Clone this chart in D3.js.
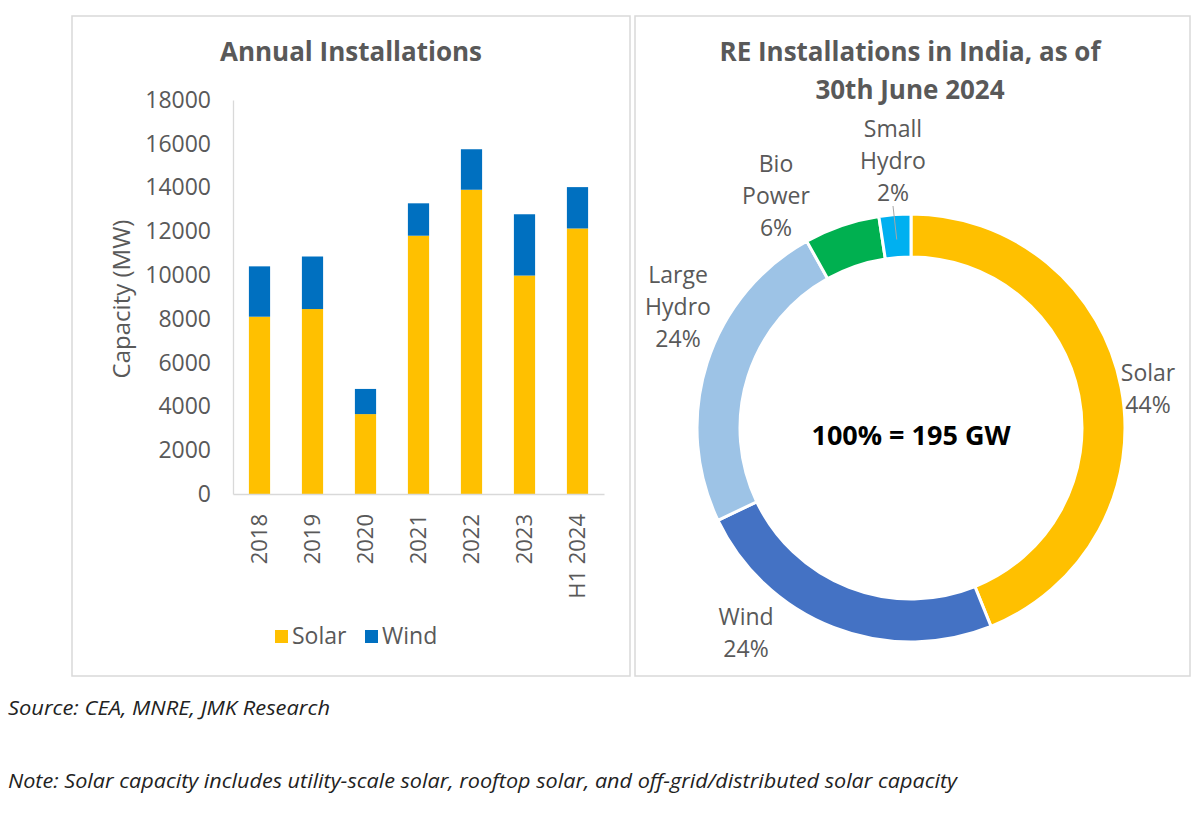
<!DOCTYPE html>
<html>
<head>
<meta charset="utf-8">
<script src="https://cdn.jsdelivr.net/npm/d3@7"></script>
<style>
  body { margin: 0; background: #fff; }
  svg text { font-family: "Open Sans", sans-serif; }
</style>
</head>
<body>
<svg id="chart" width="1200" height="818"></svg>
<script>
// Annual installations (MW)
const years = ["2018", "2019", "2020", "2021", "2022", "2023", "H1 2024"];
const solarMW = [8100, 8450, 3650, 11800, 13900, 9980, 12130];
const windMW = [2300, 2400, 1150, 1480, 1850, 2800, 1890];
const yTicks = [0, 2000, 4000, 6000, 8000, 10000, 12000, 14000, 16000, 18000];

// RE mix as of 30 June 2024 (share of 195 GW, %)
const sources = ["Solar", "Wind", "Large Hydro", "Bio Power", "Small Hydro"];
const shares = [43.9, 24.0, 24.0, 5.7, 2.4];
const totalLabel = "100% = 195 GW";

const grey = "#595959",
  border = "#d9d9d9",
  barColors = { Solar: "#FFC000", Wind: "#0070C0" },
  pieColors = ["#FFC000", "#4472C4", "#9DC3E6", "#00B050", "#00B0F0"];

const svg = d3.select("#chart");

// panel frames
svg.append("rect").attr("x", 72).attr("y", 16).attr("width", 558).attr("height", 660)
  .attr("fill", "none").attr("stroke", border).attr("stroke-width", 1.5);
svg.append("rect").attr("x", 635).attr("y", 16).attr("width", 555).attr("height", 660)
  .attr("fill", "none").attr("stroke", border).attr("stroke-width", 1.5);

// ===========================================================================
// Left: stacked bars
// ===========================================================================
const x = d3.scaleBand().domain(years).range([233, 604]).paddingInner(0.6).paddingOuter(0.3);
const y = d3.scaleLinear().domain([0, 18000]).range([494, 100]);

svg.append("text").attr("x", 351).attr("y", 61).attr("text-anchor", "middle")
  .style("font-size", "26px").style("font-weight", "bold").attr("fill", grey)
  .text("Annual Installations");

const rows = years.map((yr, i) => ({ year: yr, Solar: solarMW[i], Wind: windMW[i] }));
const stacked = d3.stack().keys(["Solar", "Wind"])(rows);

svg.append("g").selectAll("g").data(stacked).enter().append("g")
  .attr("fill", (d) => barColors[d.key])
  .selectAll("rect").data((d) => d).enter().append("rect")
  .attr("x", (d) => x(d.data.year))
  .attr("width", x.bandwidth())
  .attr("y", (d) => y(d[1]))
  .attr("height", (d) => y(d[0]) - y(d[1]));

const yAxis = svg.append("g").attr("transform", "translate(233,0)")
  .call(d3.axisLeft(y).tickValues(yTicks).tickFormat(d3.format("d")).tickSize(0).tickPadding(22));
yAxis.select(".domain").attr("stroke", border).attr("stroke-width", 1.3);
yAxis.selectAll("text").attr("fill", grey).style("font-size", "23px")
  .style("font-family", "'Open Sans', sans-serif");

const xAxis = svg.append("g").attr("transform", "translate(0,494)")
  .call(d3.axisBottom(x).tickSize(0));
xAxis.select(".domain").attr("stroke", border).attr("stroke-width", 1.3);
xAxis.selectAll("text")
  .attr("fill", grey).style("font-size", "22px").style("font-family", "'Open Sans', sans-serif")
  .attr("transform", "rotate(-90)")
  .attr("text-anchor", "end").attr("dy", "0.36em").attr("x", -20).attr("y", 0);

svg.append("text").attr("transform", "translate(130,299) rotate(-90)")
  .attr("text-anchor", "middle").style("font-size", "24px").attr("fill", grey)
  .text("Capacity (MW)");

// legend
const legend = svg.append("g").selectAll("g").data(["Solar", "Wind"]).enter().append("g")
  .attr("transform", (d, i) => "translate(" + (275 + i * 90) + ",627)");
legend.append("rect").attr("width", 13).attr("height", 13).attr("y", 3)
  .attr("fill", (d) => barColors[d]);
legend.append("text").attr("x", 17).attr("y", 17).style("font-size", "23px")
  .attr("fill", grey).text((d) => d);

// ===========================================================================
// Right: donut
// ===========================================================================
const cx = 911, cy = 428, rOut = 214, rIn = 171;

const title2 = svg.append("text").attr("text-anchor", "middle")
  .style("font-size", "26px").style("font-weight", "bold").attr("fill", grey);
title2.append("tspan").attr("x", 910).attr("y", 61).text("RE Installations in India, as of");
title2.append("tspan").attr("x", 910).attr("y", 99).text("30th June 2024");

const pie = d3.pie().sort(null).value((d) => d.v);
const arcs = pie(sources.map((s, i) => ({ name: s, v: shares[i], c: pieColors[i] })));
const arc = d3.arc().innerRadius(rIn).outerRadius(rOut);

const donut = svg.append("g").attr("transform", "translate(" + cx + "," + cy + ")");
donut.selectAll("path").data(arcs).enter().append("path")
  .attr("d", arc).attr("fill", (d) => d.data.c)
  .attr("stroke", "#fff").attr("stroke-width", 3);

donut.append("text").attr("y", 17).attr("text-anchor", "middle")
  .style("font-size", "27px").style("font-weight", "bold").attr("fill", "#000")
  .text(totalLabel);

// data label anchors (relative to centre) and line breaks
const labelPos = {
  "Solar": [237, -47],
  "Wind": [-165, 197],
  "Large Hydro": [-233, -145],
  "Bio Power": [-135, -256],
  "Small Hydro": [-18, -291]
};
const lineH = 32;
arcs.forEach((d) => {
  const p = labelPos[d.data.name];
  const lines = d.data.name.split(" ").concat([Math.round(d.data.v) + "%"]);
  const t = donut.append("text").attr("text-anchor", "middle")
    .style("font-size", "23px").attr("fill", grey);
  lines.forEach((ln, j) => {
    t.append("tspan").attr("x", p[0]).attr("y", p[1] + j * lineH).text(ln);
  });
});

// leader line for Small Hydro
const sh = arcs[4];
const shMid = (sh.startAngle + sh.endAngle) / 2;
donut.append("line")
  .attr("x1", -18).attr("y1", -222)
  .attr("x2", Math.sin(shMid) * (rOut - 25)).attr("y2", -Math.cos(shMid) * (rOut - 25))
  .attr("stroke", "#a6a6a6").attr("stroke-width", 1);

// ===========================================================================
// Footnotes
// ===========================================================================
svg.append("text").attr("x", 8).attr("y", 715)
  .style("font-size", "20px").style("font-style", "italic").attr("fill", "#222")
  .attr("textLength", 322).attr("lengthAdjust", "spacingAndGlyphs")
  .text("Source: CEA, MNRE, JMK Research");
svg.append("text").attr("x", 8).attr("y", 788)
  .style("font-size", "20px").style("font-style", "italic").attr("fill", "#222")
  .attr("textLength", 949).attr("lengthAdjust", "spacingAndGlyphs")
  .text("Note: Solar capacity includes utility-scale solar, rooftop solar, and off-grid/distributed solar capacity");
</script>
</body>
</html>
